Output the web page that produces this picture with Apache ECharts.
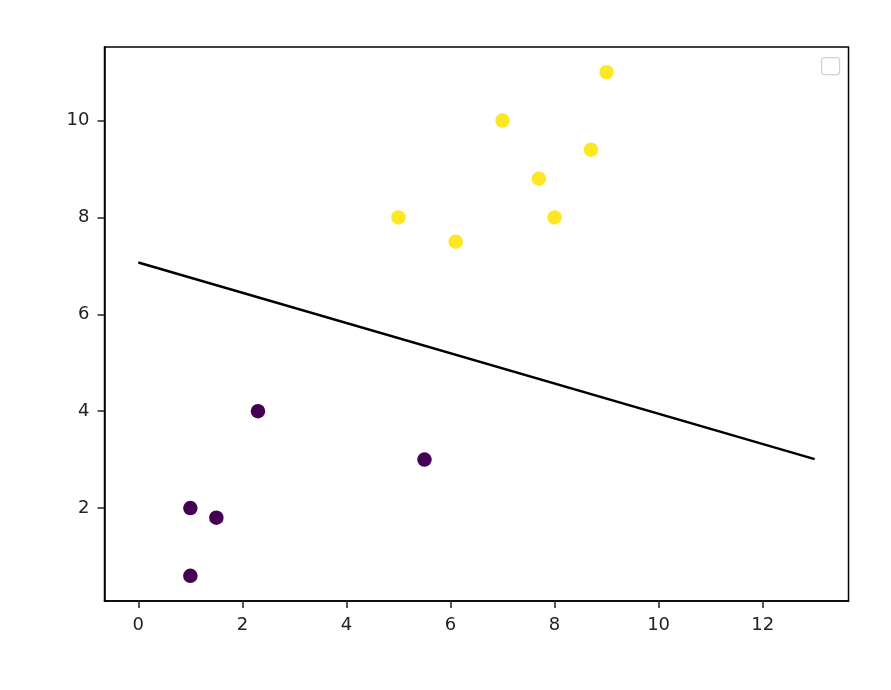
<!DOCTYPE html>
<html><head><meta charset="utf-8">
<script src="https://cdn.jsdelivr.net/npm/echarts@6/dist/echarts.min.js"></script>
<style>html,body{margin:0;padding:0;background:#fff}#c{width:891px;height:690px}</style>
</head><body><div id="c"></div>
<script>
const purplePoints = [[1,2],[1.5,1.8],[2.3,4],[5.5,3],[1,0.6]];
const yellowPoints = [[5,8],[6.1,7.5],[7,10],[7.7,8.8],[8,8],[8.7,9.4],[9,11]];
const linePoints = [[0,7.07],[13,3.01]];
const xTicks = [0,2,4,6,8,10,12];
const yTicks = [2,4,6,8,10];

const chart = echarts.init(document.getElementById('c'));
const font = {fontFamily:'DejaVu Sans', fontSize:18, color:'#222'};
chart.setOption({
  animation:false,
  grid:{left:104.5,right:42.5,top:47,bottom:89,show:true,borderColor:'#000',borderWidth:1.5,backgroundColor:'transparent'},
  xAxis:{type:'value',min:-0.65,max:13.65,splitLine:{show:false},
    axisLine:{show:true,onZero:false,lineStyle:{color:'#000',width:1.5}},
    axisTick:{show:true,length:7,lineStyle:{color:'#222',width:1.5},customValues:xTicks},
    axisLabel:Object.assign({customValues:xTicks,margin:15},font)},
  yAxis:{type:'value',min:0.08,max:11.52,splitLine:{show:false},
    axisLine:{show:true,onZero:false,lineStyle:{color:'#000',width:1.5}},
    axisTick:{show:true,length:7,lineStyle:{color:'#222',width:1.5},customValues:yTicks},
    axisLabel:Object.assign({customValues:yTicks,margin:15},font)},
  series:[
    {type:'scatter',data:purplePoints,symbolSize:14.5,itemStyle:{color:'#440154',opacity:1}},
    {type:'scatter',data:yellowPoints,symbolSize:14.5,itemStyle:{color:'#fde725',opacity:1}},
    {type:'line',data:linePoints,showSymbol:false,symbol:'none',lineStyle:{color:'#000',width:2.5}}
  ],
  graphic:[{type:'rect',left:821,top:57,shape:{width:18,height:17,r:3},style:{fill:'#fff',stroke:'#d0d0d0',lineWidth:1.2}}]
});
</script></body></html>
